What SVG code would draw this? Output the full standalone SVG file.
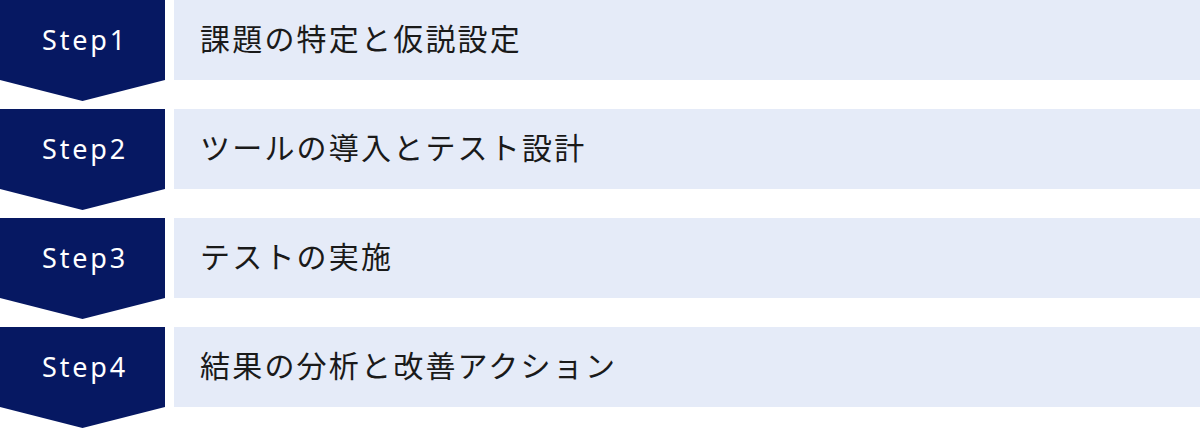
<svg xmlns="http://www.w3.org/2000/svg" width="1200" height="429" viewBox="0 0 1200 429">
<style>
.step{fill:#061862}
.box{fill:#E5EBF8}
.st{font-family:"Noto Sans","Noto Sans CJK JP",sans-serif;font-size:27px;fill:#ffffff;letter-spacing:2.8px;text-anchor:middle}
.lb{font-family:"Noto Sans CJK JP","Noto Sans",sans-serif;font-size:30px;fill:#1a1a1a;letter-spacing:2.2px}
</style>
<rect width="1200" height="429" fill="#ffffff"/>
<g id="step1">
<path class="step" d="M0,0H165V80L82.5,101L0,80Z"/>
<rect class="box" x="174" y="0" width="1026" height="80"/>
<text class="st" x="85" y="49.5">Step1</text>
<text class="lb" x="200" y="49.5">課題の特定と仮説設定</text>
</g>
<g id="step2">
<path class="step" d="M0,109H165V189L82.5,210L0,189Z"/>
<rect class="box" x="174" y="109" width="1026" height="80"/>
<text class="st" x="85" y="158.5">Step2</text>
<text class="lb" x="200" y="158.5">ツールの導入とテスト設計</text>
</g>
<g id="step3">
<path class="step" d="M0,218H165V298L82.5,319L0,298Z"/>
<rect class="box" x="174" y="218" width="1026" height="80"/>
<text class="st" x="85" y="267.5">Step3</text>
<text class="lb" x="200" y="267.5">テストの実施</text>
</g>
<g id="step4">
<path class="step" d="M0,327H165V407L82.5,428L0,407Z"/>
<rect class="box" x="174" y="327" width="1026" height="80"/>
<text class="st" x="85" y="376.5">Step4</text>
<text class="lb" x="200" y="376.5">結果の分析と改善アクション</text>
</g>
<g id="connectors"></g>
</svg>
